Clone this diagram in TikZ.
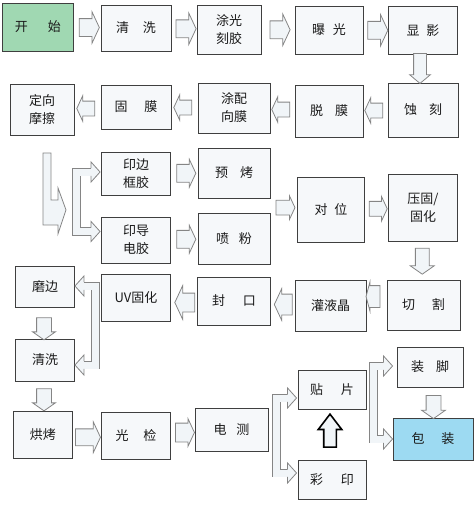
\documentclass[tikz,border=0pt]{standalone}
\usepackage{fontspec}
\newfontfamily\cjk{Noto Sans CJK SC}
\usetikzlibrary{shapes.arrows}
\usetikzlibrary{calc}

\definecolor{boxline}{HTML}{3F3F3F}
\definecolor{boxfill}{HTML}{F6F8FA}
\definecolor{arrline}{HTML}{858585}
\definecolor{arrfill}{HTML}{F1F5F8}
\definecolor{startg}{HTML}{A0D8B2}
\definecolor{packb}{HTML}{9DDAF2}
\definecolor{txt}{HTML}{1A1A1A}
\newcommand{\gapw}[1]{\hspace{#1pt}}

\begin{document}
\begin{tikzpicture}[x=1pt,y=-1pt,
  box/.style={draw=boxline,fill=boxfill,line width=0.9pt,align=center,inner sep=0pt,
    text=txt,font=\cjk\fontsize{13}{18}\selectfont},
  blk/.style={single arrow,draw=arrline,fill=arrfill,line width=0.8pt,inner sep=0pt,
    inner ysep=8.5pt,single arrow head extend=7pt,minimum height=20pt,single arrow tip angle=130},
  fork/.style={draw=arrline,double=arrfill,double distance=7pt,line width=0.8pt},
  tip/.pic={\fill[arrfill] (-9,-10) -- (0,0) -- (-9,10) -- cycle;
    \draw[arrline,line width=0.8pt] (-9,-3.9) -- (-9,-10) -- (0,0) -- (-9,10) -- (-9,3.9);}]
\useasboundingbox (0,0) rectangle (474,512);

% row 1
\node[box,fill=startg,minimum width=71pt,minimum height=48pt] (start) at (38,27) {开\gapw{20}始};
\node[box,minimum width=70pt,minimum height=46pt] (wash) at (136,28) {清\gapw{14}洗};
\node[box,minimum width=64pt,minimum height=49pt] (coat) at (229,29.5) {涂光\\刻胶};
\node[box,minimum width=68pt,minimum height=48pt] (expose) at (329,30) {曝\gapw{8}光};
\node[box,minimum width=69pt,minimum height=48pt] (develop) at (423,30.5) {显\gapw{7}影};
% row 2
\node[box,minimum width=64pt,minimum height=51pt] (rub) at (42,110) {定向\\摩擦};
\node[box,minimum width=70pt,minimum height=44pt] (cure) at (136,107) {固\gapw{17}膜};
\node[box,minimum width=72pt,minimum height=50pt] (orient) at (234,108) {涂配\\向膜};
\node[box,minimum width=68pt,minimum height=52pt] (strip) at (329,111) {脱\gapw{12}膜};
\node[box,minimum width=70pt,minimum height=54pt] (etch) at (423,110) {蚀\gapw{12}刻};
% row 3
\node[box,minimum width=69pt,minimum height=43pt] (frame) at (136,173.5) {印边\\框胶};
\node[box,minimum width=72pt,minimum height=50pt] (prebake) at (234,173) {预\gapw{12}烤};
\node[box,minimum width=69pt,minimum height=46pt] (cglue) at (136,240) {印导\\电胶};
\node[box,minimum width=72pt,minimum height=51pt] (spray) at (234,238.5) {喷\gapw{10}粉};
\node[box,minimum width=67pt,minimum height=65pt] (align) at (331,209.5) {对\gapw{7}位};
\node[box,minimum width=69pt,minimum height=67pt] (press) at (423,208) {压固/\\固化};
% row 4
\node[box,minimum width=59pt,minimum height=41pt] (grind) at (45,287) {磨边};
\node[box,minimum width=69pt,minimum height=47pt] (uv) at (136,298) {UV固化};
\node[box,minimum width=73pt,minimum height=48pt] (seal) at (234,301) {封\gapw{18}口};
\node[box,minimum width=71pt,minimum height=51pt] (lc) at (330.5,306) {灌液晶};
\node[box,minimum width=73pt,minimum height=50pt] (cut) at (423.5,305) {切\gapw{17}割};
\node[box,minimum width=59pt,minimum height=42pt] (wash2) at (45,360) {清洗};
\node[box,minimum width=66pt,minimum height=40pt] (pins) at (430,367) {装\gapw{12}脚};
% row 5
\node[box,minimum width=59pt,minimum height=47pt] (bake) at (43,435) {烘烤};
\node[box,minimum width=69pt,minimum height=47pt] (inspect) at (136,435.5) {光\gapw{15}检};
\node[box,minimum width=73pt,minimum height=43pt] (etest) at (231.5,429.5) {电\gapw{10}测};
\node[box,minimum width=68pt,minimum height=39pt] (attach) at (332,390) {贴\gapw{18}片};
\node[box,minimum width=68pt,minimum height=39pt] (cprint) at (332,479.5) {彩\gapw{18}印};
\node[box,fill=packb,minimum width=80pt,minimum height=42pt] (pack) at (433,439) {包\gapw{17}装};

% block arrows
\foreach \a/\b in {start/wash,wash/coat,coat/expose,expose/develop}
  \node[blk] (\a-\b) at ($(\a.east)!0.5!(\b.west)$) {};
\foreach \a/\b in {etch/strip,strip/orient,orient/cure,cure/rub}
  \node[blk,rotate=180,minimum height=18pt,inner ysep=7pt,single arrow head extend=5.5pt] (\a-\b) at ($(\a.west)!0.5!(\b.east)$) {};
\node[blk,rotate=270,minimum height=30pt,inner ysep=6pt,single arrow head extend=4pt,single arrow tip angle=100] (develop-etch) at ($(develop.south)!0.5!(etch.north)+(-3,-3)$) {};
\foreach \a/\b in {frame/prebake,cglue/spray}
  \node[blk,minimum height=19pt,single arrow head extend=5pt] (\a-\b) at ($(\a.east)!0.5!(\b.west)$) {};
\coordinate (pm) at ($(prebake.east)!0.5!(spray.east)$);
\node[blk,minimum height=19pt,inner ysep=7pt,single arrow head extend=4.5pt] (pm-align) at ($(pm)!0.5!(align.west)$) {};
\node[blk,minimum height=18pt,inner ysep=7pt,single arrow head extend=5pt] (align-press) at ($(align.east)!0.5!(press.west)$) {};
\node[blk,rotate=270,minimum height=26pt,inner ysep=6.5pt,single arrow head extend=5pt,single arrow tip angle=110] (press-cut) at ($(press.south)!0.5!(cut.north)+(-1,-2)$) {};
\node[blk,rotate=180,minimum height=14pt,inner ysep=10.5pt,single arrow head extend=3.5pt,single arrow tip angle=150] (cut-lc) at ($(cut.west)!0.5!(lc.east)+(-2,-9)$) {};
\node[blk,rotate=180,minimum height=18pt,inner ysep=10pt,single arrow head extend=5.5pt] (lc-seal) at ($(lc.west)!0.5!(seal.east)+(3,1)$) {};
\node[blk,rotate=180,inner ysep=9pt,single arrow head extend=7.5pt] (seal-uv) at ($(seal.west)!0.5!(uv.east)+(3,3)$) {};
\node[blk,rotate=270,minimum height=22pt,inner ysep=7pt,single arrow head extend=4pt,single arrow tip angle=110] (grind-wash2) at ($(grind.south)!0.5!(wash2.north)+(-1,3)$) {};
\node[blk,rotate=270,minimum height=22pt,inner ysep=7pt,single arrow head extend=4pt,single arrow tip angle=110] (wash2-bake) at ($(wash2.south)!0.5!(bake.north)+(0,1)$) {};
\node[blk,minimum height=25pt,inner ysep=8pt,single arrow head extend=7pt] (bake-inspect) at ($(bake.east)!0.5!(inspect.west)+(-1,2)$) {};
\node[blk,minimum height=19pt,inner ysep=9pt,single arrow head extend=4.5pt] (inspect-etest) at ($(inspect.east)!0.5!(etest.west)$) {};
\node[blk,rotate=270,minimum height=23pt,inner ysep=7pt,single arrow head extend=4.5pt,single arrow tip angle=110] (pins-pack) at ($(pins.south)!0.5!(pack.north)+(2,2)$) {};
\node[blk,draw=black,line width=1.6pt,rotate=90,minimum height=33pt,inner ysep=5.5pt,single arrow head extend=5.5pt,single arrow tip angle=75] (cprint-attach) at ($(cprint.north)!0.5!(attach.south)+(-2,0)$) {};

% bent arrow
\draw[arrline,fill=arrfill,line width=0.8pt] ($(rub.south)+(1,17)$) -- ++(8,0) -- ++(0,47) -- ++(7,0)
  -- ++(0,-12) -- ++(8,22) -- ++(-8,24) -- ++(0,-9) -- ++(-15,0) -- cycle;

% forks
\coordinate (fa) at ($(frame.west)+(-1,-1.5)$);
\coordinate (fb) at ($(cglue.west)+(-1,-8.5)$);
\draw[fork] ($(fa)+(-9,0)$) -- ++(-14.5,0) |- ($(fb)+(-9,0)$);
\pic at (fa) {tip};
\pic at (fb) {tip};
\coordinate (ga) at ($(grind.east)+(0,-1)$);
\coordinate (gb) at ($(wash2.east)+(0,5)$);
\draw[fork] ($(ga)+(9,0)$) -| ($(uv.west)+(-5.5,0)$) |- ($(gb)+(9,0)$);
\pic[rotate=180] at (ga) {tip};
\pic[rotate=180] at (gb) {tip};
\coordinate (ea) at ($(attach.west)+(-1,8)$);
\coordinate (eb) at ($(cprint.west)+(-1,-6.5)$);
\draw[fork] ($(ea)+(-9,0)$) -| ($(etest.east)+(8,0)$) |- ($(eb)+(-9,0)$);
\pic at (ea) {tip};
\pic at (eb) {tip};
\coordinate (pa) at ($(pins.west)+(-4,-1)$);
\coordinate (pb) at (pack.west);
\draw[fork] ($(pa)+(-9,0)$) -| ($(attach.east)+(7,0)$) |- ($(pb)+(-9,0)$);
\pic at (pa) {tip};
\pic at (pb) {tip};
\end{tikzpicture}
\end{document}
